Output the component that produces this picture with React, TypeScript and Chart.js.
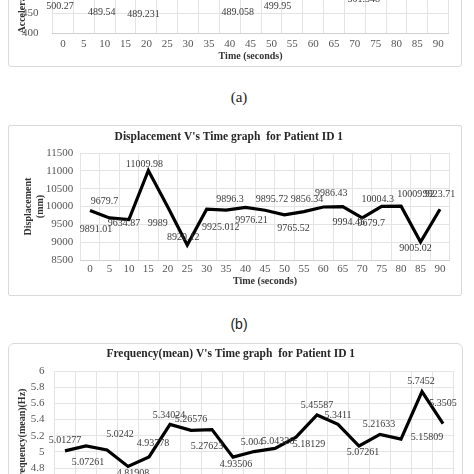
import React, { useEffect, useRef } from 'react';
import { Chart, registerables } from 'chart.js';

Chart.register(...registerables);

// ---- data ----
const timeLabels = ['0', '5', '10', '15', '20', '25', '30', '35', '40', '45', '50', '55', '60', '65', '70', '75', '80', '85', '90'];

// only the labelled acceleration points are visible in the crop
const accelValues: (number | null)[] = [
  500.27, null, 489.54, null, 489.231, null, null, null, 489.058, null,
  499.95, null, null, null, 501.348, null, null, null, null,
];

const dispValues = [
  9891.01, 9679.7, 9634.87, 11009.98, 9989, 8920.12, 9925.012, 9896.3, 9976.21, 9895.72,
  9765.52, 9856.34, 9986.43, 9994.45, 9679.7, 10004.3, 10009.92, 9005.02, 9923.71,
];

const freqValues = [
  5.01277, 5.07261, 5.0242, 4.81908, 4.93778, 5.34024, 5.26576, 5.27623, 4.93506, 5.004,
  5.04326, 5.18129, 5.45587, 5.3411, 5.07261, 5.21633, 5.15809, 5.7452, 5.3505,
];

// data label nudges (dx, dy) in px, like the hand-placed Excel labels
const accelLabelShift: [number, number][] = [
  [-3, 13], [0, 0], [-3, 15], [0, 0], [-3, 17], [0, 0], [0, 0], [0, 0], [8, 15], [0, 0],
  [6, 13], [0, 0], [0, 0], [0, 0], [9, 7], [0, 0], [0, 0], [0, 0], [0, 0],
];
const dispLabelShift: [number, number][] = [
  [6, 19], [-5, -17], [-5, 4], [-4, -6], [-10, 16], [-4, -8], [14, 18], [4, -11], [6, 13], [7, -11],
  [9, 14], [3, -12], [8, -14], [6, 16], [9, 5], [-4, -7], [15, -12], [-5, 6], [-1, -15],
];
const freqLabelShift: [number, number][] = [
  [0, -10], [2, 16], [13, -16], [5, 7], [4, -14], [-1, -9], [0, -11], [-5, 17], [3, 7], [-2, -9],
  [3, -7], [13, 7], [0, -10], [0, -9], [4, 6], [-1, -10], [26, -2], [-1, -10], [0, -20],
];

const SERIF = '"Liberation Serif", "Times New Roman", serif';
const GRID = '#e4e4e4';

const valueLabelPlugin = {
  id: 'valueLabels',
  afterDatasetsDraw(chart: any, _args: any, opts: any) {
    const meta = chart.getDatasetMeta(0);
    const data = chart.data.datasets[0].data as (number | null)[];
    const ctx = chart.ctx;
    ctx.save();
    ctx.font = `10px ${SERIF}`;
    ctx.fillStyle = '#3a3a3a';
    ctx.textAlign = 'center';
    ctx.textBaseline = 'middle';
    meta.data.forEach((pt: any, i: number) => {
      const v = data[i];
      if (v == null) return;
      const [dx, dy] = opts.shifts[i];
      ctx.fillText(String(v), pt.x + dx, pt.y + dy);
    });
    ctx.restore();
  },
};

interface PanelProps {
  left: number;
  top: number;
  width: number;
  height: number;
  area: { left: number; top: number; right: number; bottom: number };
  title: string;
  titleTop: number;
  yTitle: string | string[];
  yTitlePad: number;
  yMin: number;
  yMax: number;
  yStep: number;
  yTickPad: number;
  xTickPad: number;
  xTitlePad: number;
  values: (number | null)[];
  shifts: [number, number][];
  radius: number;
}

const LinePanel: React.FC<PanelProps> = (p) => {
  const canvasRef = useRef<HTMLCanvasElement>(null);

  useEffect(() => {
    if (!canvasRef.current) return;
    const chart = new Chart(canvasRef.current, {
      type: 'line',
      data: {
        labels: timeLabels,
        datasets: [
          {
            data: p.values,
            borderColor: '#000000',
            borderWidth: 3.2,
            pointRadius: 0,
            tension: 0,
            fill: false,
          },
        ],
      },
      options: {
        responsive: false,
        animation: false,
        layout: { padding: { left: 0, top: 0, right: p.width - p.area.right, bottom: 0 } },
        plugins: {
          legend: { display: false },
          tooltip: { enabled: false },
          title: {
            display: true,
            text: p.title,
            color: '#262626',
            font: { family: SERIF, size: 11.5, weight: 'bold', lineHeight: 1.2 },
            padding: { top: p.titleTop, bottom: p.area.top - 13.8 - p.titleTop },
          },
          valueLabels: { shifts: p.shifts },
        } as any,
        scales: {
          x: {
            type: 'category',
            offset: true,
            grid: { offset: true, color: GRID, drawTicks: false },
            border: { display: true, color: '#d0d0d0' },
            ticks: {
              color: '#555555',
              padding: p.xTickPad,
              maxRotation: 0,
              autoSkip: false,
              font: { family: SERIF, size: 11, lineHeight: 1.2 },
            },
            title: {
              display: true,
              text: 'Time (seconds)',
              color: '#333333',
              font: { family: SERIF, size: 10, weight: 'bold', lineHeight: 1.2 },
              padding: { top: 0, bottom: p.xTitlePad },
            },
            afterFit: (s: any) => {
              s.height = p.height - p.area.bottom;
            },
          },
          y: {
            min: p.yMin,
            max: p.yMax,
            grid: { color: GRID, drawTicks: false },
            border: { display: false },
            ticks: {
              stepSize: p.yStep,
              autoSkip: false,
              color: '#555555',
              padding: p.yTickPad,
              font: { family: SERIF, size: 11, lineHeight: 1.2 },
              callback: (v: any) => String(Math.round(Number(v) * 100) / 100),
            },
            title: {
              display: true,
              text: p.yTitle,
              color: '#333333',
              font: { family: SERIF, size: 10, weight: 'bold', lineHeight: 1.2 },
              padding: { top: p.yTitlePad, bottom: 0 },
            },
            afterFit: (s: any) => {
              s.width = p.area.left;
            },
          },
        },
      },
      plugins: [valueLabelPlugin],
    });
    return () => chart.destroy();
  }, []);

  return (
    <div
      style={{
        position: 'absolute',
        left: p.left,
        top: p.top,
        width: p.width,
        height: p.height,
        background: '#ffffff',
      }}
    >
      <canvas
        ref={canvasRef}
        width={p.width}
        height={p.height}
        style={{ position: 'absolute', left: 0, top: 0, width: p.width, height: p.height }}
      />
      <div
        style={{
          position: 'absolute',
          left: 0,
          top: 0,
          width: p.width,
          height: p.height,
          boxSizing: 'border-box',
          border: '1px solid #d9d9d9',
          borderRadius: p.radius,
          pointerEvents: 'none',
        }}
      />
    </div>
  );
};

const App: React.FC = () => {
  return (
    <div
      style={{
        position: 'fixed',
        left: 0,
        top: 0,
        width: 474,
        height: 474,
        overflow: 'hidden',
        background: '#ffffff',
      }}
    >
      {/* (a) acceleration, only its lower edge is in frame */}
      <LinePanel
        left={8}
        top={-100}
        width={454}
        height={167}
        area={{ left: 44.6, top: 53, right: 440.6, bottom: 133 }}
        title="Acceleration Vs Time graph  for Patient ID 1"
        titleTop={20}
        yTitle="Acceleration (m/s²)"
        yTitlePad={8}
        yMin={400}
        yMax={600}
        yStep={50}
        yTickPad={14}
        xTickPad={4.4}
        xTitlePad={5}
        values={accelValues}
        shifts={accelLabelShift}
        radius={3}
      />
      <div
        style={{
          position: 'absolute',
          left: 0,
          width: 474,
          top: 89,
          textAlign: 'center',
          fontFamily: SERIF,
          fontSize: 15,
          color: '#222',
          paddingLeft: 2,
        }}
      >
        (a)
      </div>

      {/* (b) displacement */}
      <LinePanel
        left={8}
        top={125}
        width={454}
        height={171}
        area={{ left: 72.3, top: 28, right: 441.7, bottom: 135 }}
        title="Displacement V's Time graph  for Patient ID 1"
        titleTop={5}
        yTitle={['Displacement', '(mm)']}
        yTitlePad={14}
        yMin={8500}
        yMax={11500}
        yStep={500}
        yTickPad={7}
        xTickPad={2.4}
        xTitlePad={9}
        values={dispValues}
        shifts={dispLabelShift}
        radius={2}
      />
      <div
        style={{
          position: 'absolute',
          left: 0,
          width: 474,
          top: 316,
          textAlign: 'center',
          fontFamily: '"Liberation Sans", Arial, sans-serif',
          fontSize: 14,
          color: '#222',
          paddingLeft: 2,
        }}
      >
        (b)
      </div>

      {/* (c) frequency, cut off at the bottom */}
      <LinePanel
        left={8}
        top={343}
        width={455}
        height={200}
        area={{ left: 46.5, top: 28, right: 445.5, bottom: 157.4 }}
        title="Frequency(mean) V's Time graph  for Patient ID 1"
        titleTop={4}
        yTitle="Frequency(mean)(Hz)"
        yTitlePad={8}
        yMin={4.4}
        yMax={6}
        yStep={0.2}
        yTickPad={10}
        xTickPad={3}
        xTitlePad={8}
        values={freqValues}
        shifts={freqLabelShift}
        radius={6}
      />
    </div>
  );
};

export default App;
